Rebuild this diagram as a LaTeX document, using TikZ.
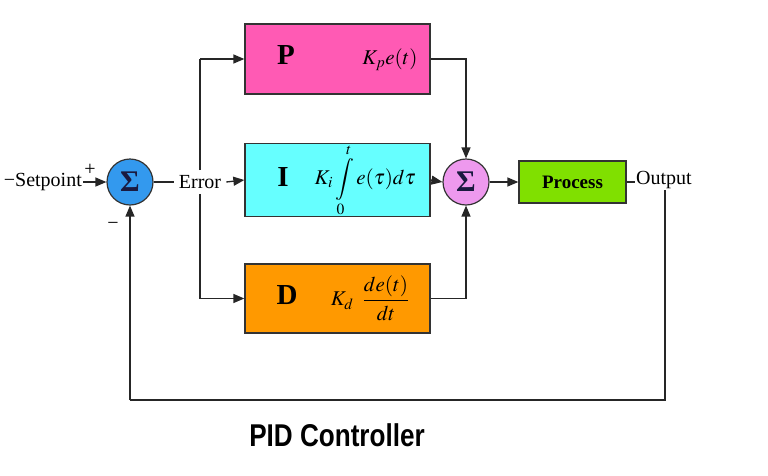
\documentclass[tikz,border=0pt]{standalone}
\usepackage{amsmath}
\usepackage{mathptmx}
\usepackage{fontspec}
\setmainfont{Liberation Serif}
\newfontfamily\titlefont{Liberation Sans}
\usetikzlibrary{arrows.meta}
\definecolor{pbox}{HTML}{FF5AB4}
\definecolor{ibox}{HTML}{66FFFF}
\definecolor{dbox}{HTML}{FF9900}
\definecolor{procbox}{HTML}{80E000}
\definecolor{sumA}{HTML}{3399EE}
\definecolor{sumB}{HTML}{EE99EE}
\definecolor{edge}{HTML}{333333}
\definecolor{sigma}{HTML}{1A1A40}
\begin{document}
\begin{tikzpicture}[x=1pt,y=-1pt,
  blk/.style={draw=edge, line width=1.3pt, minimum width=185pt, inner sep=0pt},
  sumnode/.style={circle, draw=edge, line width=1.2pt, minimum size=46pt, inner sep=0pt,
     text=sigma, font=\fontsize{30}{30}\selectfont\bfseries},
  lbl/.style={font=\fontsize{20}{22}\selectfont, inner sep=1pt},
  big/.style={font=\fontsize{29}{32}\selectfont\bfseries},
  mth/.style={font=\fontsize{21}{24}\selectfont},
  conn/.style={draw=black!85, line width=1.3pt},
  arr/.style={conn, -{Triangle[length=11pt,width=9pt]}}]
\useasboundingbox (0,0) rectangle (768,475);
% blocks
\node[blk, fill=pbox, minimum height=70pt] (P) at (337.5,59) {};
\node[blk, fill=ibox, minimum height=73pt] (I) at (337.5,180) {};
\node[blk, fill=dbox, minimum height=69pt] (D) at (337.5,298.5) {};
\node[draw=edge, line width=1.3pt, fill=procbox, minimum width=107pt, minimum height=42pt,
  font=\fontsize{19}{22}\selectfont\bfseries] (proc) at (572.5,182) {Process};
% block texts
\node[big] (Pl) at (286,55) {P};
\node[mth] (Pf) at (390,60) {$K_p e(t)$};
\node[big] (Il) at (283,177) {I};
\node[mth] (If) at (365,180) {$K_i\displaystyle\int\limits_0^t e(\tau)d\tau$};
\node[big] (Dl) at (287,295) {D};
\node[mth] (Df) at (370,298) {$K_d\;\;\dfrac{de(t)}{dt}$};
% sums
\node[sumnode, fill=sumA] (S1) at (130,182) {Σ};
\node[sumnode, fill=sumB] (S2) at (466,182) {Σ};
% labels
\node[lbl, anchor=east] (sp) at (83,182) {−Setpoint};
\node[lbl, inner sep=5pt] (err) at (200,182) {Error};
\node[lbl, anchor=west] (out) at (635,180) {Output};
\node[lbl] (plus) at (90,170) {+};
\node[lbl] (minus) at (113,226) {−};
\node[font=\titlefont\fontsize{30}{34}\selectfont\bfseries] (title) at (337,435) {\scalebox{0.87}[1.05]{PID Controller}};
% coordinates
\coordinate (bp) at (200,59);
\coordinate (bd) at (200,298.5);
\coordinate (fb1) at (665,400);
\coordinate (fb2) at (130,400);
% connectors
\draw[arr] (sp.east) -- (S1.west);
\draw[conn] (S1.east) -- (err.west);
\draw[arr] (err.east) -- (I.west);
\draw[conn] (err.north) -- (bp);
\draw[arr] (bp) -- (P.west);
\draw[conn] (err.south) -- (bd);
\draw[arr] (bd) -- (D.west);
\draw[arr] (P.east) -| (S2.north);
\draw[arr] (I.east) -- (S2.west);
\draw[arr] (D.east) -| (S2.south);
\draw[arr] (S2.east) -- (proc.west);
\draw[conn] (proc.east) -- (out.west |- proc.east);
\draw[conn] (out.south -| fb1) -- (fb1) -- (fb2);
\draw[arr] (fb2) -- (S1.south);
\end{tikzpicture}
\end{document}
